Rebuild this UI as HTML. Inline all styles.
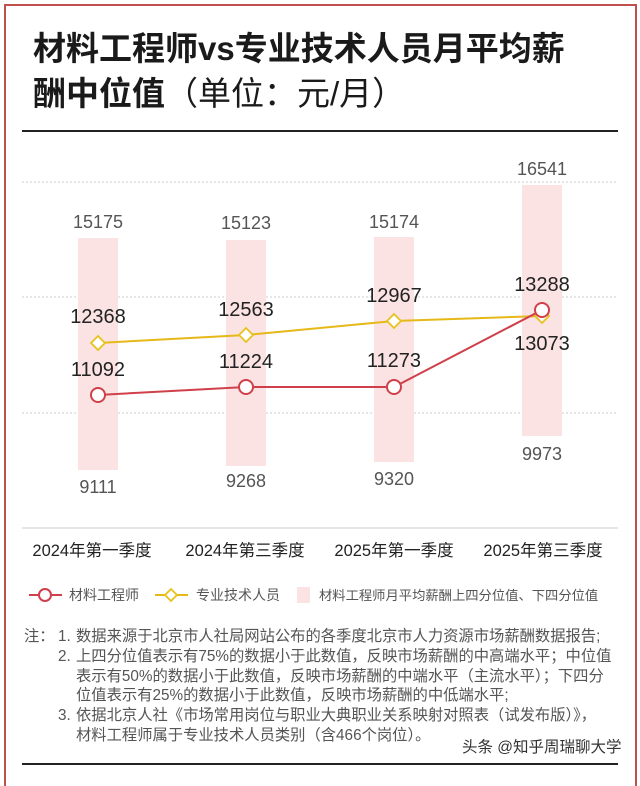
<!DOCTYPE html>
<html><head><meta charset="utf-8">
<style>
html,body{margin:0;padding:0;background:#fff;}
body{width:640px;height:772px;position:relative;overflow:hidden;font-family:"Liberation Sans","Noto Sans CJK SC",sans-serif;}
.frame{position:absolute;left:4px;top:4px;width:629px;height:780px;border:2px solid #c0504d;border-bottom:none;}
.title{position:absolute;left:33px;top:26px;font-size:33px;font-weight:bold;color:#1a1a1a;line-height:45px;white-space:nowrap;}
.title .n{font-weight:normal;}
.hr{position:absolute;left:22px;width:596px;height:2px;background:#222;}
.notes{position:absolute;left:24px;top:627px;font-size:15.3px;color:#555;line-height:19.8px;white-space:nowrap;}
.notes .row{display:flex;}
.notes .lab{width:34px;}
.notes .num{width:18px;}
.wm{position:absolute;left:462px;top:735px;font-size:15.5px;color:#333;white-space:nowrap;}
</style></head><body>
<div class="frame"></div>
<div class="title">材料工程师vs专业技术人员月平均薪<br>酬中位值<span class="n">（单位：元/月）</span></div>
<div class="hr" style="top:130px"></div>
<svg width="640" height="640" style="position:absolute;left:0;top:0" font-family="Liberation Sans, Noto Sans CJK SC, sans-serif">
 <g stroke="#ccc" stroke-dasharray="2,2" stroke-width="1">
  <line x1="22" y1="182" x2="618" y2="182"/>
  <line x1="22" y1="297" x2="618" y2="297"/>
  <line x1="22" y1="413" x2="618" y2="413"/>
 </g>
 <line x1="22" y1="528" x2="618" y2="528" stroke="#ddd" stroke-width="1.5"/>
 <g fill="#fbe3e3">
  <rect x="78" y="238" width="40" height="232"/>
  <rect x="226" y="240" width="40" height="226"/>
  <rect x="374" y="237" width="40" height="225"/>
  <rect x="522" y="185" width="40" height="251"/>
 </g>
 <polyline points="98,343 246,335 394,321 542,316" fill="none" stroke="#e6b818" stroke-width="2"/>
 <g fill="#fff" stroke="#e6c21c" stroke-width="1.8">
  <polygon points="98,336 105,343 98,350 91,343"/>
  <polygon points="246,328 253,335 246,342 239,335"/>
  <polygon points="394,314 401,321 394,328 387,321"/>
  <polygon points="542,309 549,316 542,323 535,316"/>
 </g>
 <polyline points="98,395 246,387 394,387 542,310" fill="none" stroke="#d0404a" stroke-width="2"/>
 <g fill="#fff" stroke="#d0404a" stroke-width="2">
  <circle cx="98" cy="395" r="7"/><circle cx="246" cy="387" r="7"/>
  <circle cx="394" cy="387" r="7"/><circle cx="542" cy="310" r="7"/>
 </g>
 <g font-size="18" fill="#555" text-anchor="middle">
  <text x="98" y="228">15175</text><text x="246" y="229">15123</text>
  <text x="394" y="228">15174</text><text x="542" y="175">16541</text>
  <text x="98" y="493">9111</text><text x="246" y="487">9268</text>
  <text x="394" y="485">9320</text><text x="542" y="460">9973</text>
 </g>
 <g font-size="20" fill="#222" text-anchor="middle">
  <text x="98" y="323">12368</text><text x="246" y="316">12563</text>
  <text x="394" y="302">12967</text><text x="542" y="291">13288</text>
  <text x="98" y="376">11092</text><text x="246" y="368">11224</text>
  <text x="394" y="367">11273</text><text x="542" y="350">13073</text>
 </g>
 <g font-size="16.5" fill="#222" text-anchor="middle">
  <text x="92" y="556">2024年第一季度</text><text x="245" y="556">2024年第三季度</text>
  <text x="394" y="556">2025年第一季度</text><text x="543" y="556">2025年第三季度</text>
 </g>
 <line x1="29" y1="595" x2="62" y2="595" stroke="#d0404a" stroke-width="2"/>
 <circle cx="45" cy="595" r="6" fill="#fff" stroke="#d0404a" stroke-width="2"/>
 <text x="69" y="600" font-size="14" fill="#555">材料工程师</text>
 <line x1="155" y1="595" x2="188" y2="595" stroke="#e6b818" stroke-width="2"/>
 <polygon points="171,589 177,595 171,601 165,595" fill="#fff" stroke="#e6c21c" stroke-width="1.8"/>
 <text x="196" y="600" font-size="14" fill="#555">专业技术人员</text>
 <rect x="297" y="587" width="13" height="16" fill="#fbe3e3"/>
 <text x="319" y="600" font-size="13.3" fill="#555">材料工程师月平均薪酬上四分位值、下四分位值</text>
</svg>
<div class="notes">
 <div class="row"><span class="lab">注：</span><span class="num">1.</span><span>数据来源于北京市人社局网站公布的各季度北京市人力资源市场薪酬数据报告;</span></div>
 <div class="row"><span class="lab"></span><span class="num">2.</span><span>上四分位值表示有75%的数据小于此数值，反映市场薪酬的中高端水平；中位值<br>表示有50%的数据小于此数值，反映市场薪酬的中端水平（主流水平）；下四分<br>位值表示有25%的数据小于此数值，反映市场薪酬的中低端水平;</span></div>
 <div class="row"><span class="lab"></span><span class="num">3.</span><span>依据北京人社《市场常用岗位与职业大典职业关系映射对照表（试发布版）》，<br>材料工程师属于专业技术人员类别（含466个岗位）。</span></div>
</div>
<div class="wm">头条 @知乎周瑞聊大学</div>
<div class="hr" style="top:763px"></div>
</body></html>
